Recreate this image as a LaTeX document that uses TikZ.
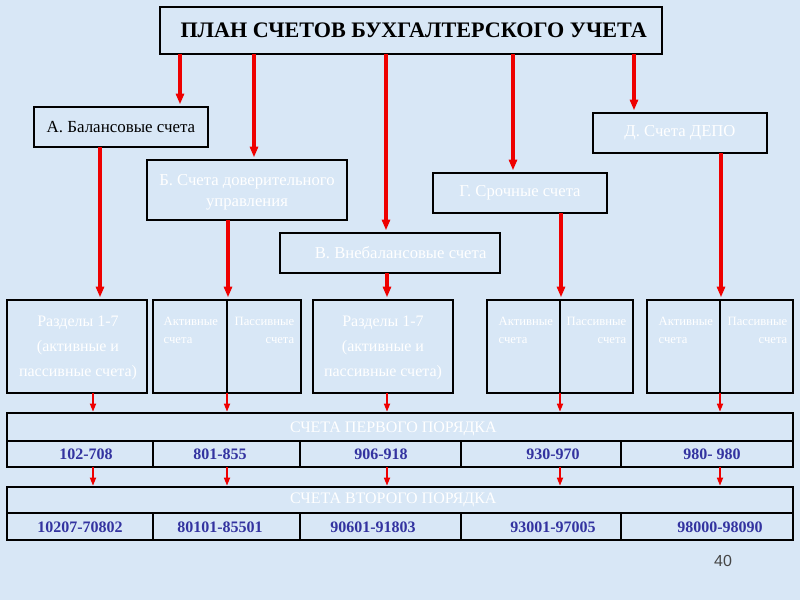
\documentclass[tikz,border=0pt]{standalone}
\usepackage{fontspec}
\setmainfont{Liberation Serif}
\newfontfamily\pagefont{Liberation Sans}
\usetikzlibrary{arrows.meta,fit}
\definecolor{bg}{RGB}{216,231,246}
\definecolor{arrred}{RGB}{238,0,0}
\definecolor{numblue}{RGB}{51,51,160}
\tikzset{
  box/.style={draw=black, line width=1.4pt, inner sep=0pt, outer sep=0pt},
  boxline/.style={draw=black, line width=1.4pt},
  big/.style={draw=arrred, line width=2.3pt, shorten >=2pt, -{Triangle[length=8pt,width=6pt]}},
  small/.style={draw=arrred, line width=1.2pt, shorten >=1pt, -{Triangle[length=6pt,width=4.5pt]}},
  wt/.style={text=white, font=\fontsize{12.5}{15.75}\selectfont, inner sep=0pt},
  wtbig/.style={text=white, font=\fontsize{12}{18.75}\selectfont, align=center},
  wts/.style={text=white, font=\fontsize{9.5}{13.5}\selectfont},
  num/.style={text=numblue, font=\fontsize{12}{14}\selectfont\bfseries},
}
\begin{document}
\begin{tikzpicture}[x=0.75pt,y=-0.75pt]
\fill[bg] (0,0) rectangle (800,600);
\useasboundingbox (0,0) rectangle (800,600);

% top level boxes
\node[box, fit={(160,7)(662,54)}] (title) {};
\node[box, fit={(34,107)(208,147)}] (a) {};
\node[box, fit={(147,160)(347,220)}] (b) {};
\node[box, fit={(280,233)(500,273)}] (v) {};
\node[box, fit={(433,173)(607,213)}] (g) {};
\node[box, fit={(593,113)(767,153)}] (d) {};

\node[font=\fontsize{16.6}{18}\selectfont\bfseries, inner sep=0pt] (titlet) at ([xshift=2pt]title.center) {ПЛАН СЧЕТОВ БУХГАЛТЕРСКОГО УЧЕТА};
\node[font=\fontsize{12.7}{14}\selectfont, inner sep=0pt] (at) at (a.center) {А. Балансовые счета};
\node[wt, align=center] (bt) at ([yshift=-2pt]b.center) {Б. Счета доверительного\\управления};
\node[wt] (vt) at ([xshift=8pt]v.center) {В. Внебалансовые счета};
\node[wt] (gt) at (g.center) {Г. Срочные счета};
\node[wt] (dt) at (d.center) {Д. Счета ДЕПО};

% x positions
\coordinate (xa) at (180,0);
\coordinate (xb) at (254,0);
\coordinate (xv) at (386,0);
\coordinate (xg) at (513,0);
\coordinate (xd) at (634,0);
\coordinate (ya) at (100,0);
\coordinate (yb) at (228,0);
\coordinate (yv) at (387,0);
\coordinate (yg) at (561,0);
\coordinate (yd) at (721,0);
\coordinate (z1) at (93,0);
\coordinate (z2) at (227,0);
\coordinate (z3) at (387,0);
\coordinate (z4) at (560,0);
\coordinate (z5) at (720,0);

% section boxes
\node[box, fit={(7,300)(147,393)}] (s1) {};
\node[box, fit={(153,300)(301,393)}] (s2) {};
\node[box, fit={(313,300)(453,393)}] (s3) {};
\node[box, fit={(487,300)(633,393)}] (s4) {};
\node[box, fit={(647,300)(793,393)}] (s5) {};
\draw[boxline] (s2.north -| z2) -- (s2.south -| z2);
\draw[boxline] (s4.north -| z4) -- (s4.south -| z4);
\draw[boxline] (s5.north -| z5) -- (s5.south -| z5);

\node[wtbig] (s1t) at (78,348) {Разделы 1-7\\(активные и\\пассивные счета)};
\node[wtbig] (s3t) at (383,348) {Разделы 1-7\\(активные и\\пассивные счета)};
\node[wts, align=left, anchor=west] (s2l) at (159,330) {Активные\\счета};
\node[wts, align=right, anchor=east] (s2r) at (299,330) {Пассивные\\счета};
\node[wts, align=left, anchor=west] (s4l) at (494,330) {Активные\\счета};
\node[wts, align=right, anchor=east] (s4r) at (631,330) {Пассивные\\счета};
\node[wts, align=left, anchor=west] (s5l) at (654,330) {Активные\\счета};
\node[wts, align=right, anchor=east] (s5r) at (792,330) {Пассивные\\счета};

% first-order table
\node[box, fit={(7,413)(793,441)}] (t1) {};
\node[box, fit={(7,441)(153,467)}] (c11) {};
\node[box, fit={(153,441)(300,467)}] (c12) {};
\node[box, fit={(300,441)(461,467)}] (c13) {};
\node[box, fit={(461,441)(621,467)}] (c14) {};
\node[box, fit={(621,441)(793,467)}] (c15) {};
\node[wt, font=\fontsize{12}{14}\selectfont] (t1t) at ([xshift=-5pt,yshift=-1.5pt]t1.center) {СЧЕТА ПЕРВОГО ПОРЯДКА};
\node[num] (n11) at (86,454) {102-708};
\node[num] (n12) at (220,454) {801-855};
\node[num] (n13) at (381,454) {906-918};
\node[num] (n14) at (553,454) {930-970};
\node[num] (n15) at (712,454) {980- 980};

% second-order table
\node[box, fit={(7,487)(793,513)}] (t2) {};
\node[box, fit={(7,513)(153,540)}] (c21) {};
\node[box, fit={(153,513)(300,540)}] (c22) {};
\node[box, fit={(300,513)(461,540)}] (c23) {};
\node[box, fit={(461,513)(621,540)}] (c24) {};
\node[box, fit={(621,513)(793,540)}] (c25) {};
\node[wt, font=\fontsize{12}{14}\selectfont] (t2t) at ([xshift=-5pt]t2.center) {СЧЕТА ВТОРОГО ПОРЯДКА};
\node[num] (n21) at (80,527) {10207-70802};
\node[num] (n22) at (220,527) {80101-85501};
\node[num] (n23) at (373,527) {90601-91803};
\node[num] (n24) at (553,527) {93001-97005};
\node[num] (n25) at (720,527) {98000-98090};

% arrows from title
\draw[big] (title.south -| xa) -- (a.north -| xa);
\draw[big] (title.south -| xb) -- (b.north -| xb);
\draw[big] (title.south -| xv) -- (v.north -| xv);
\draw[big] (title.south -| xg) -- (g.north -| xg);
\draw[big] (title.south -| xd) -- (d.north -| xd);

% arrows to sections
\draw[big] (a.south -| ya) -- (s1.north -| ya);
\draw[big] (b.south -| yb) -- (s2.north -| yb);
\draw[big] (v.south -| yv) -- (s3.north -| yv);
\draw[big] (g.south -| yg) -- (s4.north -| yg);
\draw[big] (d.south -| yd) -- (s5.north -| yd);

% small arrows
\draw[small] (s1.south -| z1) -- (t1.north -| z1);
\draw[small] (s2.south -| z2) -- (t1.north -| z2);
\draw[small] (s3.south -| z3) -- (t1.north -| z3);
\draw[small] (s4.south -| z4) -- (t1.north -| z4);
\draw[small] (s5.south -| z5) -- (t1.north -| z5);
\draw[small] (c11.south -| z1) -- (t2.north -| z1);
\draw[small] (c12.south -| z2) -- (t2.north -| z2);
\draw[small] (c13.south -| z3) -- (t2.north -| z3);
\draw[small] (c14.south -| z4) -- (t2.north -| z4);
\draw[small] (c15.south -| z5) -- (t2.north -| z5);

\node[font=\pagefont\fontsize{12}{14}\selectfont, text={rgb,255:red,70;green,70;blue,70}] (pg) at (723,561) {40};
\end{tikzpicture}
\end{document}
